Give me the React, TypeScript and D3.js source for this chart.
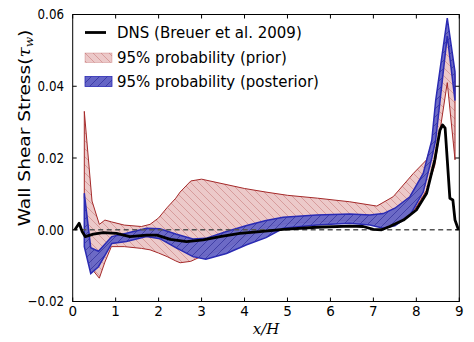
import React from "react";
import * as d3 from "d3";

const xTicks = [0, 1, 2, 3, 4, 5, 6, 7, 8, 9];
const yTicks = [-0.02, 0, 0.02, 0.04, 0.06];
const yTickLabels = ["\u22120.02", "0.00", "0.02", "0.04", "0.06"];

const dnsX = [0.05, 0.15, 0.22, 0.29, 0.48, 0.71, 1.02, 1.33, 1.72, 1.96, 2.27, 2.65, 3.04, 3.43, 3.89, 4.36, 4.9, 5.68, 6.45, 6.76, 7.0, 7.19, 7.38, 7.7, 8.0, 8.24, 8.43, 8.55, 8.61, 8.67, 8.72, 8.78, 8.85, 8.9, 8.98];
const dnsY = [0.0, 0.0018, -0.0005, -0.0019, -0.0012, -0.0008, -0.001, -0.0019, -0.0015, -0.0015, -0.0027, -0.0033, -0.0028, -0.0019, -0.001, -0.0005, 0.0001, 0.0007, 0.001, 0.0009, 0.0001, 0.0, 0.0009, 0.0027, 0.0055, 0.0102, 0.0195, 0.0278, 0.0292, 0.0283, 0.0195, 0.0088, 0.0083, 0.0027, 0.0];

const priorX = [0.27, 0.45, 0.62, 0.75, 0.9, 1.2, 1.6, 1.8, 2.0, 2.2, 2.4, 2.5, 2.75, 3.0, 3.5, 4.0, 4.5, 5.0, 5.7, 6.45, 7.08, 7.46, 7.93, 8.24, 8.43, 8.72, 8.9];
const priorUpper = [0.033, 0.008, 0.0015, 0.0027, 0.0022, 0.0013, 0.0009, 0.0015, 0.0033, 0.0062, 0.0088, 0.0105, 0.0136, 0.0141, 0.0128, 0.0115, 0.0105, 0.0096, 0.0088, 0.0078, 0.0066, 0.0092, 0.0157, 0.0195, 0.0269, 0.055, 0.043];
const priorLower = [0.009, -0.011, -0.0135, -0.009, -0.0047, -0.0047, -0.0052, -0.0056, -0.0065, -0.0075, -0.0087, -0.0092, -0.0088, -0.0074, -0.0055, -0.002, 0.0008, 0.0018, 0.0022, 0.0027, 0.0017, 0.0015, 0.005, 0.011, 0.018, 0.041, 0.0195];

const postX = [0.27, 0.42, 0.6, 0.91, 1.25, 1.72, 2.03, 2.4, 2.8, 3.1, 3.58, 4.05, 4.5, 4.9, 5.68, 6.45, 6.92, 7.23, 7.5, 7.85, 8.16, 8.36, 8.45, 8.72, 8.9];
const postUpper = [0.0102, -0.005, -0.006, -0.0019, -0.001, 0.0004, 0.0003, -0.0012, -0.0026, -0.0024, -0.0005, 0.0012, 0.0026, 0.0035, 0.0041, 0.0044, 0.0041, 0.0045, 0.006, 0.0092, 0.0157, 0.025, 0.036, 0.059, 0.044];
const postLower = [-0.0047, -0.0122, -0.0103, -0.0038, -0.0033, -0.0019, -0.0025, -0.005, -0.0075, -0.0082, -0.0066, -0.0042, -0.0022, 0.0004, 0.0013, 0.0018, 0.0013, 0.0004, 0.0011, 0.004, 0.0105, 0.02, 0.025, 0.054, 0.036];

const legendLabels = ["DNS (Breuer et al. 2009)", "95% probability (prior)", "95% probability (posterior)"];

const W = 474, H = 342;
const L = 72.7, R = 459.3, T = 14.5, B = 301.5;

export default function App() {
  const x = d3.scaleLinear().domain([0, 9]).range([L, R]);
  const y = d3.scaleLinear().domain([-0.02, 0.06]).range([B, T]);

  const priorData = priorX.map((v, i) => ({ x: v, lo: priorLower[i], hi: priorUpper[i] }));
  const postData = postX.map((v, i) => ({ x: v, lo: postLower[i], hi: postUpper[i] }));
  const dnsData = dnsX.map((v, i) => ({ x: v, y: dnsY[i] }));

  const area = d3.area<any>().x((d) => x(d.x)).y0((d) => y(d.lo)).y1((d) => y(d.hi));
  const line = d3.line<any>().x((d) => x(d.x)).y((d) => y(d.y));

  const font = "'DejaVu Sans', sans-serif";
  const priorFill = "#ecc9c9";
  const priorEdge = "#a52a2a";
  const postFill = "#6565c6";
  const postEdge = "#2b2bb3";

  return (
    <svg width={W} height={H} style={{ position: "absolute", left: 0, top: 0, background: "#fff" }}>
      <defs>
        <clipPath id="plot">
          <rect x={L} y={T} width={R - L} height={B - T} />
        </clipPath>
        <pattern id="hatchPrior" patternUnits="userSpaceOnUse" width={8} height={8}>
          <path d="M-2,-2 L10,10 M-2,6 L2,10 M6,-2 L10,2" stroke="rgba(170,60,60,0.4)" strokeWidth={0.8} />
        </pattern>
        <pattern id="hatchPost" patternUnits="userSpaceOnUse" width={8} height={8}>
          <path d="M-2,10 L10,-2 M-2,2 L2,-2 M6,10 L10,6" stroke="rgba(30,30,140,0.7)" strokeWidth={0.8} />
        </pattern>
      </defs>

      <g clipPath="url(#plot)">
        <path d={area(priorData) || ""} fill={priorFill} />
        <path d={area(priorData) || ""} fill="url(#hatchPrior)" stroke={priorEdge} strokeWidth={1} />
        <path d={area(postData) || ""} fill={postFill} fillOpacity={0.95} />
        <path d={area(postData) || ""} fill="url(#hatchPost)" stroke={postEdge} strokeWidth={1.5} />
        <line x1={x(0)} x2={x(9)} y1={y(0)} y2={y(0)} stroke="#555" strokeWidth={1.3} strokeDasharray="5,3.5" />
        <path d={line(dnsData) || ""} fill="none" stroke="#000" strokeWidth={2.8} strokeLinejoin="round" />
      </g>

      <rect x={L} y={T} width={R - L} height={B - T} fill="none" stroke="#000" strokeWidth={1} />
      {xTicks.map((t) => (
        <g key={"x" + t}>
          <line x1={x(t)} x2={x(t)} y1={B} y2={B - 4} stroke="#000" />
          <line x1={x(t)} x2={x(t)} y1={T} y2={T + 4} stroke="#000" />
          <text x={x(t)} y={316} textAnchor="middle" fontFamily={font} fontSize={13.5}>{t}</text>
        </g>
      ))}
      {yTicks.map((t, i) => (
        <g key={"y" + t}>
          <line x1={L} x2={L + 4} y1={y(t)} y2={y(t)} stroke="#000" />
          <line x1={R} x2={R - 4} y1={y(t)} y2={y(t)} stroke="#000" />
          <text transform={`translate(64,${y(t) + 4.8}) scale(0.88,1)`} textAnchor="end" fontFamily={font} fontSize={13.5}>{yTickLabels[i]}</text>
        </g>
      ))}

      <text x={266} y={334} textAnchor="middle" fontFamily="'DejaVu Serif', serif" fontStyle="italic" fontSize={15}>x/H</text>
      <text transform="translate(30,128) rotate(-90) scale(1.16,1)" textAnchor="middle" fontFamily={font} fontSize={16}>
        Wall Shear Stress(<tspan fontFamily="'DejaVu Serif', serif" fontStyle="italic">τ</tspan>
        <tspan fontFamily="'DejaVu Serif', serif" fontStyle="italic" fontSize={10.5} dy={3}>w</tspan>
        <tspan dy={-3}>)</tspan>
      </text>

      <g>
        <line x1={85} x2={106} y1={32.5} y2={32.5} stroke="#000" strokeWidth={2.8} />
        <text x={117} y={38} fontFamily={font} fontSize={15}>{legendLabels[0]}</text>
        <rect x={85} y={53} width={27} height={9.5} fill={priorFill} />
        <rect x={85} y={53} width={27} height={9.5} fill="url(#hatchPrior)" stroke="rgba(165,42,42,0.3)" strokeWidth={0.8} />
        <text x={117} y={62.5} fontFamily={font} fontSize={15}>{legendLabels[1]}</text>
        <rect x={85} y={76.5} width={27} height={10} fill={postFill} />
        <rect x={85} y={76.5} width={27} height={10} fill="url(#hatchPost)" stroke={postEdge} strokeWidth={0.8} />
        <text x={117} y={86.5} fontFamily={font} fontSize={15}>{legendLabels[2]}</text>
      </g>
    </svg>
  );
}
